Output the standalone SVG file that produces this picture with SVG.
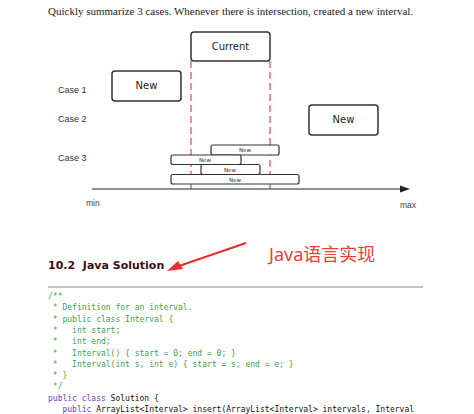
<svg xmlns="http://www.w3.org/2000/svg" width="474" height="414" viewBox="0 0 474 414">
<style>
.title{font-family:"Liberation Serif",serif;font-size:11px;fill:#222}
.box{fill:#fff;stroke:#333;stroke-width:1.5}
.sbox{fill:#fff;stroke:#333;stroke-width:1.2}
.lbl{font-family:"Liberation Sans",Arial,sans-serif;font-size:9px;fill:#333}
.bt{font-family:"DejaVu Sans",sans-serif;font-size:10px;fill:#222;text-anchor:middle}
.st{font-family:"DejaVu Sans",sans-serif;font-size:5.5px;fill:#333;text-anchor:middle}
.dash{stroke:#e8506a;stroke-width:1.3;stroke-dasharray:7,4;fill:none}
.code{font-family:"DejaVu Sans Mono",monospace;font-size:8px;white-space:pre}
.cm{fill:#3f9f4f}
.kw{fill:#6a3fc0}
.tx{fill:#111}
</style>
<text class="title" x="48" y="15">Quickly summarize 3 cases. Whenever there is intersection, created a new interval.</text>
<g id="connectors">
<line class="dash" x1="191" y1="61" x2="191" y2="192"/>
<line class="dash" x1="270" y1="61" x2="270" y2="192"/>
<line x1="92" y1="189" x2="402" y2="189" stroke="#222" stroke-width="1.2"/>
<polygon points="410,189 400,185.5 400,192.5" fill="#222"/>
<line x1="246" y1="243" x2="176" y2="267" stroke="#e8302a" stroke-width="2.2"/>
<polygon points="167,271 178,261 183,269" fill="#e8302a"/>
</g>
<g id="current"><rect class="box" x="191" y="32" width="79" height="29" rx="3"/><text class="bt" x="230.5" y="50">Current</text></g>
<g id="case1-label"><text class="lbl" x="58" y="93">Case 1</text></g>
<g id="case2-label"><text class="lbl" x="58" y="122">Case 2</text></g>
<g id="case3-label"><text class="lbl" x="58" y="161">Case 3</text></g>
<g id="case1-new"><rect class="box" x="112" y="71" width="69" height="30" rx="3"/><text class="bt" x="146.5" y="89">New</text></g>
<g id="case2-new"><rect class="box" x="309" y="105" width="69" height="30" rx="3"/><text class="bt" x="343.5" y="123">New</text></g>
<g id="case3-new1"><rect class="sbox" x="211" y="145" width="68" height="10" rx="2"/><text class="st" x="245" y="152">New</text></g>
<g id="case3-new2"><rect class="sbox" x="171" y="155" width="70" height="9.5" rx="2"/><text class="st" x="205" y="162">New</text></g>
<g id="case3-new3"><rect class="sbox" x="201" y="164.5" width="59" height="10" rx="2"/><text class="st" x="230" y="171.5">New</text></g>
<g id="case3-new4"><rect class="sbox" x="171" y="174.5" width="128" height="9.5" rx="2"/><text class="st" x="235" y="181.5">New</text></g>
<text class="lbl" x="86" y="206" style="font-size:8.5px;fill:#444">min</text>
<text class="lbl" x="400" y="208" style="font-size:8.5px;fill:#444">max</text>
<text x="48" y="269" style="font-family:'DejaVu Sans',sans-serif;font-weight:bold;font-size:11px;fill:#3a1010;white-space:pre">10.2  Java Solution</text>
<text x="269" y="261" style="font-family:'Noto Sans','Noto Sans CJK SC',sans-serif;font-size:18px;fill:#e8403a">Java语言实现</text>
<line x1="48" y1="287" x2="423" y2="287" stroke="#888" stroke-width="1"/>
<g class="code">
<text class="code cm" x="48" y="299">/**</text>
<text class="code cm" x="48" y="310"> * Definition for an interval.</text>
<text class="code cm" x="48" y="321.5"> * public class Interval {</text>
<text class="code cm" x="48" y="333"> *   int start;</text>
<text class="code cm" x="48" y="344"> *   int end;</text>
<text class="code cm" x="48" y="355.5"> *   Interval() { start = 0; end = 0; }</text>
<text class="code cm" x="48" y="367"> *   Interval(int s, int e) { start = s; end = e; }</text>
<text class="code cm" x="48" y="378"> * }</text>
<text class="code cm" x="48" y="389"> */</text>
<text class="code tx" x="48" y="400.5"><tspan class="kw">public class</tspan> Solution {</text>
<text class="code tx" x="48" y="412">   <tspan class="kw">public</tspan> ArrayList&lt;Interval&gt; insert(ArrayList&lt;Interval&gt; intervals, Interval</text>
</g>
</svg>
